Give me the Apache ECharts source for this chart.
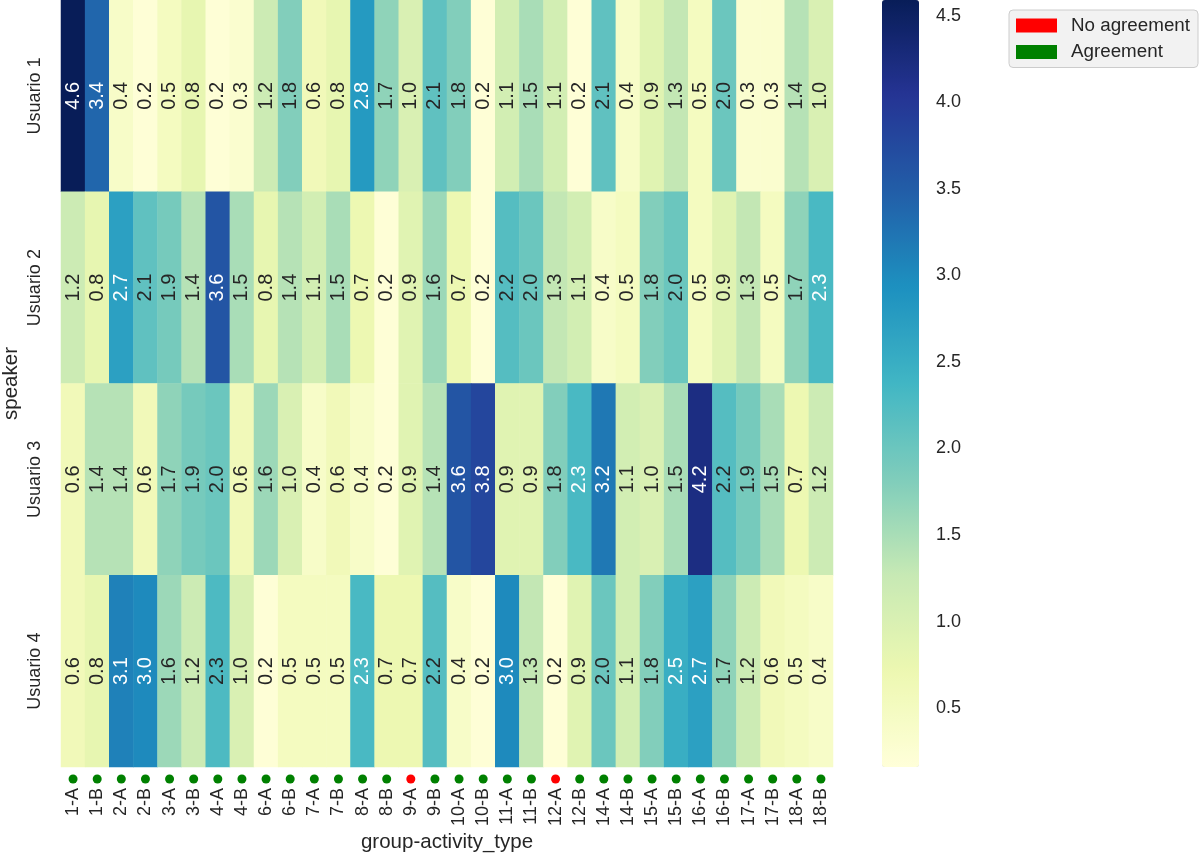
<!DOCTYPE html>
<html>
<head>
<meta charset="utf-8">
<script src="https://cdn.jsdelivr.net/npm/echarts@6/dist/echarts.min.js"></script>
<style>html,body{margin:0;padding:0;background:#fff}#chart{width:1200px;height:853px}</style>
</head>
<body>
<div id="chart"></div>
<script>
const categories = ['1-A','1-B','2-A','2-B','3-A','3-B','4-A','4-B','6-A','6-B','7-A','7-B','8-A','8-B','9-A','9-B','10-A','10-B','11-A','11-B','12-A','12-B','14-A','14-B','15-A','15-B','16-A','16-B','17-A','17-B','18-A','18-B'];
const speakers = ['Usuario 1','Usuario 2','Usuario 3','Usuario 4'];
const usuario1 = [4.59,3.4,0.4,0.2,0.5,0.8,0.2,0.3,1.2,1.8,0.6,0.8,2.8,1.7,1.0,2.1,1.8,0.2,1.1,1.5,1.1,0.2,2.1,0.4,0.9,1.3,0.5,2.0,0.3,0.3,1.4,1.0];
const usuario2 = [1.2,0.8,2.7,2.1,1.9,1.4,3.6,1.5,0.8,1.4,1.1,1.5,0.7,0.2,0.9,1.6,0.7,0.2,2.2,2.0,1.3,1.1,0.4,0.5,1.8,2.0,0.5,0.9,1.3,0.5,1.7,2.3];
const usuario3 = [0.6,1.4,1.4,0.6,1.7,1.9,2.0,0.6,1.6,1.0,0.4,0.6,0.4,0.2,0.9,1.4,3.6,3.8,0.9,0.9,1.8,2.3,3.2,1.1,1.0,1.5,4.2,2.2,1.9,1.5,0.7,1.2];
const usuario4 = [0.6,0.8,3.1,3.0,1.6,1.2,2.27,1.0,0.2,0.5,0.5,0.5,2.3,0.7,0.7,2.2,0.4,0.2,3.0,1.3,0.2,0.9,2.0,1.1,1.8,2.5,2.7,1.7,1.2,0.6,0.5,0.4];
const agreement = [1,1,1,1,1,1,1,1,1,1,1,1,1,1,0,1,1,1,1,1,0,1,1,1,1,1,1,1,1,1,1,1];
const colorbarTicks = [0.5,1.0,1.5,2.0,2.5,3.0,3.5,4.0,4.5];
const colorMin = 0.16, colorMax = 4.59;

const rows = [usuario1, usuario2, usuario3, usuario4];
const heatData = [];
rows.forEach((row, yi) => row.forEach((v, xi) => {
  heatData.push({value: [xi, yi, v], label: {color: v >= 2.3 ? '#ffffff' : '#262626'}});
}));
const agreeData = [], noAgreeData = [];
agreement.forEach((a, i) => (a ? agreeData : noAgreeData).push([categories[i], 0.5]));

const FONT = '"Liberation Sans", Arial, sans-serif';
const TXT = '#262626';
const chart = echarts.init(document.getElementById('chart'));
chart.setOption({
  animation: false,
  textStyle: {fontFamily: FONT},
  grid: [
    {left: 61, top: 0, width: 772, height: 767, outerBoundsMode: 'none', containLabel: false},
    {left: 61, top: 770, width: 772, height: 18, outerBoundsMode: 'none', containLabel: false},
    {left: 882, top: 0, width: 37, height: 767, outerBoundsMode: 'none', containLabel: false}
  ],
  xAxis: [
    {type: 'category', data: categories, gridIndex: 0,
     axisLine: {show: false}, axisTick: {show: false}, splitLine: {show: false},
     axisLabel: {interval: 0, rotate: 90, margin: 21, fontSize: 18, color: TXT, fontFamily: FONT},
     name: 'group-activity_type', nameLocation: 'middle', nameGap: 65, nameMoveOverlap: false,
     nameTextStyle: {fontSize: 20.5, color: TXT, fontFamily: FONT}},
    {type: 'category', data: categories, gridIndex: 1, show: false},
    {type: 'value', gridIndex: 2, show: false}
  ],
  yAxis: [
    {type: 'category', data: speakers, inverse: true, gridIndex: 0,
     axisLine: {show: false}, axisTick: {show: false}, splitLine: {show: false},
     axisLabel: {rotate: 90, margin: 17, fontSize: 18, color: TXT, fontFamily: FONT},
     name: 'speaker', nameLocation: 'middle', nameGap: 39, nameRotate: 90, nameMoveOverlap: false,
     nameTextStyle: {fontSize: 20.5, color: TXT, fontFamily: FONT}},
    {type: 'value', gridIndex: 1, min: 0, max: 1, show: false},
    {type: 'value', gridIndex: 2, position: 'right', min: colorMin, max: colorMax,
     axisLine: {show: false}, splitLine: {show: false},
     axisTick: {show: true, length: 9, lineStyle: {color: TXT, width: 1.5}, customValues: colorbarTicks},
     axisLabel: {margin: 17, fontSize: 18, color: TXT, fontFamily: FONT, customValues: colorbarTicks,
                 formatter: v => v.toFixed(1)}}
  ],
  visualMap: {
    type: 'continuous', seriesIndex: 0, min: colorMin, max: colorMax,
    left: 882, top: 0, itemWidth: 37, itemHeight: 767, padding: 0,
    calculable: false, hoverLink: false, text: null, showLabel: false,
    inRange: {color: ['#ffffd9','#edf8b1','#c7e9b4','#7fcdbb','#41b6c4','#1d91c0','#225ea8','#253494','#081d58']}
  },
  legend: {
    data: ['No agreement', 'Agreement'], orient: 'vertical', left: 1009, top: 10,
    icon: 'rect', itemWidth: 41, itemHeight: 14, itemGap: 7.5,
    padding: [6, 8, 6, 7], backgroundColor: '#f2f2f2', borderColor: '#cccccc', borderWidth: 1, borderRadius: 4,
    selectedMode: false,
    itemStyle: {opacity: 1},
    textStyle: {fontSize: 18.8, color: TXT, fontFamily: FONT, padding: [0, 0, 0, 9]}
  },
  series: [
    {type: 'heatmap', xAxisIndex: 0, yAxisIndex: 0, data: heatData,
     label: {show: true, rotate: 90, fontSize: 20, fontFamily: FONT, formatter: p => p.value[2].toFixed(1)},
     itemStyle: {borderWidth: 0}, emphasis: {disabled: true}},
    {type: 'scatter', name: 'No agreement', xAxisIndex: 1, yAxisIndex: 1, data: noAgreeData,
     symbolSize: 9, itemStyle: {color: '#ff0000', opacity: 1}},
    {type: 'scatter', name: 'Agreement', xAxisIndex: 1, yAxisIndex: 1, data: agreeData,
     symbolSize: 9, itemStyle: {color: '#008000', opacity: 1}}
  ]
});
</script>
</body>
</html>
